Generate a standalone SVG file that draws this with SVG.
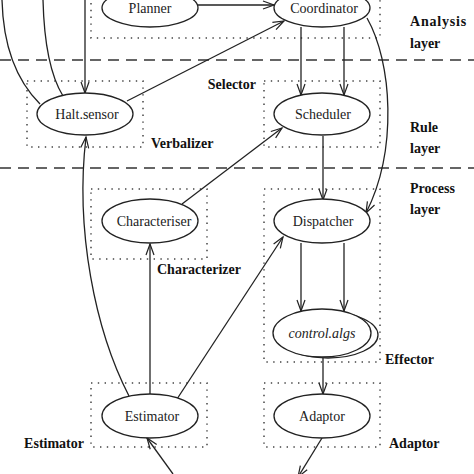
<svg xmlns="http://www.w3.org/2000/svg" width="474" height="474" viewBox="0 0 474 474">
<defs>
<marker id="arr" markerUnits="userSpaceOnUse" markerWidth="14" markerHeight="12" viewBox="-12 -6 14 12" refX="0" refY="0" orient="auto">
<path d="M-11,-4 L0,0 L-11,4" fill="none" stroke="#222" stroke-width="1.2"/>
</marker>
</defs>
<style>
.bg{fill:#fff}
.n ellipse{fill:#fff;stroke:#222;stroke-width:1.3}
.n text{font-family:"Liberation Serif",serif;font-size:14px;fill:#222;text-anchor:middle;dominant-baseline:central}
.box{fill:none;stroke:#444;stroke-width:1.5;stroke-dasharray:1.4 5.4}
.dash{stroke:#333;stroke-width:1.4;stroke-dasharray:11 7}
.lbl{font-family:"Liberation Serif",serif;font-size:14px;font-weight:bold;fill:#111}
#edges path,#edges line{fill:none;stroke:#222;stroke-width:1.3}
.a{marker-end:url(#arr)}
</style>
<rect class="bg" x="0" y="0" width="474" height="474"/>
<g id="layers">
<line class="dash" x1="0" y1="60" x2="474" y2="60"/>
<line class="dash" x1="0" y1="168" x2="474" y2="168"/>
<text class="lbl" x="410" y="26" letter-spacing="0.8">Analysis</text>
<text class="lbl" x="410" y="48">layer</text>
<text class="lbl" x="410" y="132">Rule</text>
<text class="lbl" x="410" y="153">layer</text>
<text class="lbl" x="410" y="193">Process</text>
<text class="lbl" x="410" y="214">layer</text>
</g>
<g id="boxes">
<rect class="box" x="91" y="-10" width="289" height="48"/>
<rect class="box" x="27" y="81" width="116" height="66"/>
<rect class="box" x="264" y="81" width="116" height="66"/>
<rect class="box" x="91" y="189" width="116" height="70"/>
<rect class="box" x="264" y="189" width="116" height="173"/>
<rect class="box" x="91" y="383" width="116" height="64"/>
<rect class="box" x="264" y="383" width="116" height="64"/>
<text class="lbl" x="256" y="89" text-anchor="end">Selector</text>
<text class="lbl" x="151" y="148">Verbalizer</text>
<text class="lbl" x="157" y="274">Characterizer</text>
<text class="lbl" x="385" y="364">Effector</text>
<text class="lbl" x="84" y="448" text-anchor="end">Estimator</text>
<text class="lbl" x="389" y="448">Adaptor</text>
</g>
<g id="edges">
<line class="a" x1="197" y1="5" x2="274" y2="5"/>
<line class="a" x1="127" y1="101" x2="284" y2="21"/>
<line class="a" x1="85" y1="0" x2="85" y2="93"/>
<path d="M2,0 C3,40 14,78 40,104"/>
<path d="M43,0 C44,40 50,75 63,96"/>
<line class="a" x1="301" y1="27" x2="301" y2="95"/>
<line class="a" x1="344" y1="27" x2="344" y2="95"/>
<path class="a" d="M367,18 C392,62 398,150 366,213"/>
<line class="a" x1="323" y1="136" x2="323" y2="200"/>
<line class="a" x1="182" y1="204" x2="282" y2="128"/>
<line class="a" x1="301" y1="243" x2="301" y2="311"/>
<line class="a" x1="344" y1="243" x2="344" y2="311"/>
<line class="a" x1="323" y1="358" x2="323" y2="394"/>
<line class="a" x1="322" y1="438" x2="298" y2="477"/>
<line class="a" x1="173" y1="474" x2="147" y2="438"/>
<line class="a" x1="150" y1="394" x2="150" y2="244"/>
<path class="a" d="M129,396 C95,330 75,230 86,137"/>
<line class="a" x1="177" y1="399" x2="283" y2="237"/>
</g>
<g id="planner" class="n"><ellipse cx="150" cy="8" rx="48" ry="19"/><text x="150" y="8">Planner</text></g>
<g id="coordinator" class="n"><ellipse cx="322" cy="8" rx="48" ry="19"/><text x="324" y="8">Coordinator</text></g>
<g id="haltsensor" class="n"><ellipse cx="85" cy="114" rx="48" ry="21"/><text x="87" y="114">Halt.sensor</text></g>
<g id="scheduler" class="n"><ellipse cx="322" cy="114" rx="48" ry="21"/><text x="323" y="114">Scheduler</text></g>
<g id="characteriser" class="n"><ellipse cx="150" cy="221" rx="48" ry="22"/><text x="154" y="221">Characteriser</text></g>
<g id="dispatcher" class="n"><ellipse cx="322" cy="221" rx="48" ry="22"/><text x="323" y="221">Dispatcher</text></g>
<g id="controlalgs" class="n"><ellipse cx="328" cy="335" rx="50" ry="23"/><ellipse cx="322" cy="333" rx="49" ry="24"/><text x="322" y="333" font-style="italic">control.algs</text></g>
<g id="estimator" class="n"><ellipse cx="150" cy="416" rx="48" ry="22"/><text x="152" y="416">Estimator</text></g>
<g id="adaptor" class="n"><ellipse cx="322" cy="416" rx="48" ry="22"/><text x="322" y="416">Adaptor</text></g>
</svg>
